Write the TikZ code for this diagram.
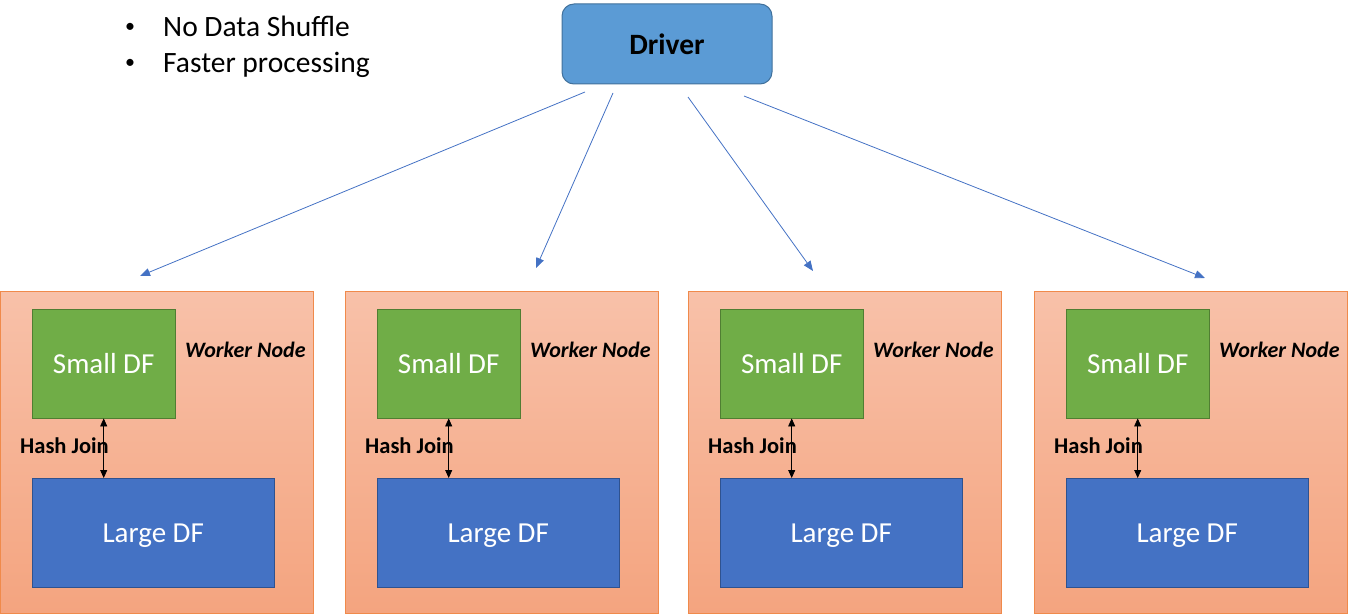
\documentclass[tikz,border=0pt]{standalone}
\usepackage{fontspec}
\setmainfont{Carlito}
\usetikzlibrary{arrows.meta}

\definecolor{driverfill}{HTML}{5B9BD5}
\definecolor{driveredge}{HTML}{41719C}
\definecolor{workertop}{HTML}{F8C1A9}
\definecolor{workerbot}{HTML}{F4A47F}
\definecolor{workeredge}{HTML}{F08A4B}
\definecolor{smallfill}{HTML}{70AD47}
\definecolor{smalledge}{HTML}{507E32}
\definecolor{largefill}{HTML}{4472C4}
\definecolor{largeedge}{HTML}{2F528F}
\definecolor{sendline}{HTML}{4472C4}

\tikzset{
	workerbox/.style={draw=workeredge, top color=workertop, bottom color=workerbot,
		minimum width=313, minimum height=322, anchor=north west, inner sep=0},
	smallbox/.style={draw=smalledge, fill=smallfill, text=white, font=\fontsize{29}{34}\selectfont,
		minimum width=143, minimum height=109, anchor=north west, inner sep=0, text depth=0pt},
	largebox/.style={draw=largeedge, fill=largefill, text=white, font=\fontsize{29}{34}\selectfont,
		minimum width=242, minimum height=109, anchor=north west, inner sep=0, text depth=0pt},
	textlabel/.style={inner sep=0, anchor=west},
	sendarrow/.style={draw=sendline, line width=0.8pt, -{Triangle[length=10pt,width=8pt]}},
	joinarrow/.style={line width=0.8pt, {Triangle[length=8pt,width=7pt]}-{Triangle[length=8pt,width=7pt]}}
}

\begin{document}
\begin{tikzpicture}[x=1pt,y=-1pt]
	
	\useasboundingbox (0,0) rectangle (1358,615);
	
	% Ưu điểm
	\node[inner sep=0, font=\fontsize{20}{24}\selectfont] (dot1) at (130,28) {\textbullet};
	\node[inner sep=0, font=\fontsize{20}{24}\selectfont] (dot2) at (130,64) {\textbullet};
	\node[inner sep=0, anchor=base west, font=\fontsize{29.5}{34}\selectfont] (adv1) at (163,37) {No Data Shuffle};
	\node[inner sep=0, anchor=base west, font=\fontsize{29.5}{34}\selectfont] (adv2) at (163,73) {Faster processing};
	
	% Driver
	\node[draw=driveredge, line width=1pt, fill=driverfill, rounded corners=12pt, minimum width=210, minimum height=80,
		text depth=0pt, font=\bfseries\fontsize{29.5}{34}\selectfont] (driver) at (667,44) {Driver};
	
	% Các worker node
	\foreach \i/\ox in {1/0,2/345,3/688,4/1034} {
		\node[workerbox] (w\i) at (\ox,291) {};
		\node[smallbox] (s\i) at (\ox+32,309) {Small DF};
		\node[largebox] (l\i) at (\ox+32,478) {Large DF};
		\node[textlabel, font=\bfseries\itshape\fontsize{22}{26}\selectfont] (wn\i) at (\ox+185,350) {Worker Node};
		\node[textlabel, font=\bfseries\fontsize{22.5}{26}\selectfont] (hj\i) at (\ox+20,446) {Hash Join};
		\draw[joinarrow] (s\i.south) -- (s\i.south |- l\i.north);
	}
	
	% Mũi tên từ driver
	\coordinate (d1) at (585,92);  \coordinate (t1) at (140,276);
	\coordinate (d2) at (613,93);  \coordinate (t2) at (536,268);
	\coordinate (d3) at (688,97);  \coordinate (t3) at (813,271);
	\coordinate (d4) at (744,96);  \coordinate (t4) at (1205,278);
	\foreach \i in {1,...,4}
		\draw[sendarrow] (d\i) -- (t\i);
	
\end{tikzpicture}
\end{document}
